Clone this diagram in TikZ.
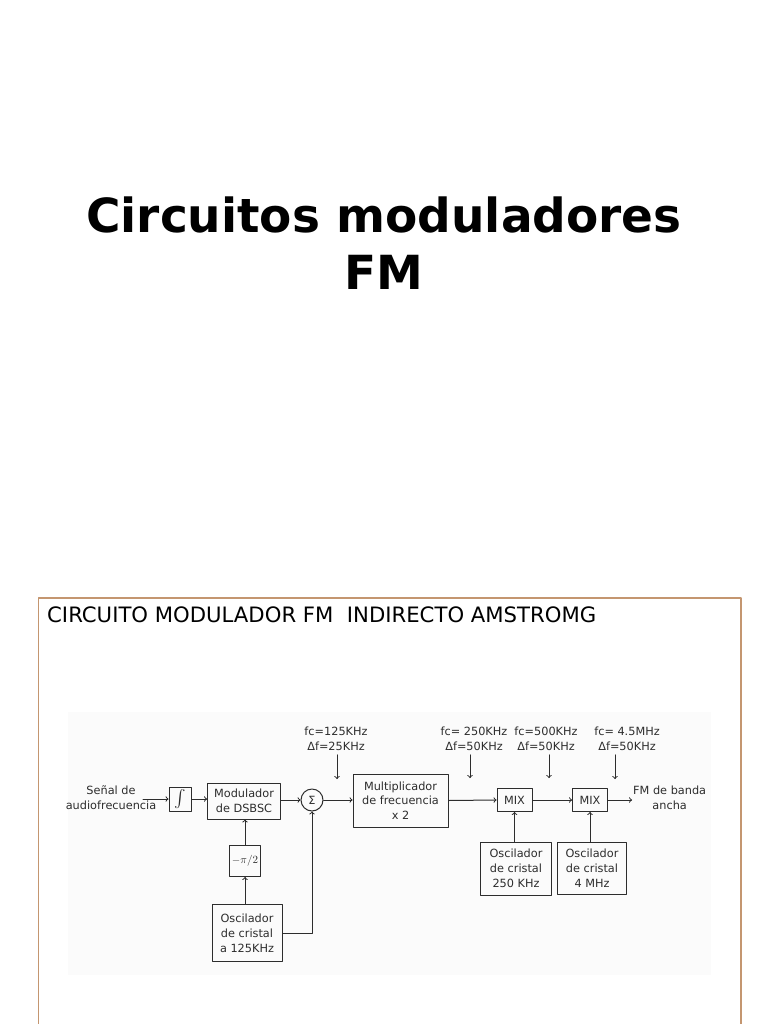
\documentclass[tikz,border=0pt]{standalone}
\usepackage{exscale}
\usepackage{fontspec}
\setmainfont{DejaVu Sans}
\usetikzlibrary{arrows}
\definecolor{framebrown}{RGB}{196,150,112}
\definecolor{ink}{RGB}{45,45,45}
\newcommand{\dgfont}{\fontsize{11.3}{14.8}\selectfont}

\begin{document}
\begin{tikzpicture}[line cap=round,line join=round,>=to,x=1pt,y=-1pt,
  blk/.style={draw=ink,line width=1pt,inner sep=0pt,align=center,text=ink,font=\dgfont},
  lbl/.style={inner sep=1pt,align=center,text=ink,font=\dgfont},
  wire/.style={draw=ink,line width=1pt,->}]
  \useasboundingbox[fill=white] (0,0) rectangle (768,1024);
  \clip (0,0) rectangle (768,1024);
  % title and frame
  \node[font=\fontsize{47}{57}\bfseries\selectfont,align=center,inner sep=0pt] (title) at (384,243) {Circuitos moduladores\\FM};
  \fill[black!1.5] (68,712) rectangle (711,975);
  \draw[framebrown,line width=1.4pt] (38.5,1040) -- (38.5,598) -- (741,598) -- (741,1040);
  \node[anchor=west,font=\fontsize{21.2}{25}\selectfont,inner sep=0pt] (head) at (47,615) {CIRCUITO MODULADOR FM\ \ INDIRECTO AMSTROMG};
  % main chain
  \node[lbl] (audio) at (111,798) {Señal de\\audiofrecuencia};
  \coordinate (in) at (143,799);
  \node[blk,minimum width=22pt,minimum height=24pt,font=\fontsize{17}{18}\selectfont] (integ) at (180,799) {$\int$};
  \node[blk,minimum width=73pt,minimum height=36pt] (dsb) at (244,801) {Modulador\\de DSBSC};
  \node[blk,circle,minimum size=22pt] (sum) at (312,800) {Σ};
  \node[blk,minimum width=95pt,minimum height=53pt] (mult) at (400.5,800.5) {Multiplicador\\de frecuencia\\x 2};
  \node[blk,minimum width=35pt,minimum height=23pt] (mixa) at (514.5,800) {MIX};
  \node[blk,minimum width=35pt,minimum height=23pt] (mixb) at (590,800) {MIX};
  \node[lbl,anchor=west] (fmout) at (632,798) {FM de banda\\ancha};
  % oscillators
  \node[blk,minimum width=31pt,minimum height=31pt] (shift) at (245,861) {$-\pi/2$};
  \node[blk,minimum width=70pt,minimum height=57pt] (osca) at (247,933) {Oscilador\\de cristal\\a 125KHz};
  \node[blk,minimum width=71pt,minimum height=53pt] (oscb) at (516,868.5) {Oscilador\\de cristal\\250 KHz};
  \node[blk,minimum width=69pt,minimum height=52pt] (oscc) at (592,868) {Oscilador\\de cristal\\4 MHz};
  % frequency labels
  \node[lbl] (fa) at (336,739) {fc=125KHz\\Δf=25KHz};
  \node[lbl] (fb) at (474,739) {fc= 250KHz\\Δf=50KHz};
  \node[lbl] (fc) at (546,739) {fc=500KHz\\Δf=50KHz};
  \node[lbl] (fd) at (627,739) {fc= 4.5MHz\\Δf=50KHz};
  \coordinate (ta) at (337,779);
  \coordinate (tb) at (470,778);
  \coordinate (tc) at (549,778);
  \coordinate (td) at (615,779);
  % connectors
  \draw[wire] (in) -- (integ.west);
  \draw[wire] (integ.east) -- (dsb.west |- integ.east);
  \draw[wire] (dsb.east |- sum.west) -- (sum.west);
  \draw[wire] (sum.east) -- (mult.west |- sum.east);
  \draw[wire] (mult.east) -- (mixa.west);
  \draw[wire] (mixa.east) -- (mixb.west);
  \draw[wire] (mixb.east) -- (fmout.west |- mixb.east);
  \draw[wire] (shift.north) -- (shift.north |- dsb.south);
  \draw[wire] (shift.south |- osca.north) -- (shift.south);
  \draw[wire] (osca.east) -| (sum.south);
  \draw[wire] (oscb.north -| mixa) -- (mixa.south);
  \draw[wire] (oscc.north -| mixb) -- (mixb.south);
  \draw[wire,shorten <=3pt] (fa.south -| ta) -- (ta);
  \draw[wire,shorten <=3pt] (fb.south -| tb) -- (tb);
  \draw[wire,shorten <=3pt] (fc.south -| tc) -- (tc);
  \draw[wire,shorten <=3pt] (fd.south -| td) -- (td);
\end{tikzpicture}
\end{document}
